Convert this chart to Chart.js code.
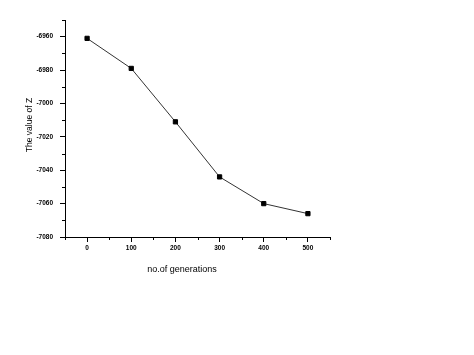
<!DOCTYPE html>
<html>
<head>
<meta charset="utf-8">
<script src="https://cdn.jsdelivr.net/npm/chart.js@4/dist/chart.umd.min.js"></script>
<style>
  html, body { margin: 0; padding: 0; background: #ffffff; }
  #wrap { width: 474px; height: 355px; }
</style>
</head>
<body>
<div id="wrap"><canvas id="c" width="474" height="355"></canvas></div>
<script>
// Data
const generations = [0, 100, 200, 300, 400, 500];
const zValues = [-6961, -6979, -7011, -7044, -7060, -7066];
const xTickLabels = [0, 100, 200, 300, 400, 500];
const yTickLabels = [-6960, -6980, -7000, -7020, -7040, -7060, -7080];
const xMinorTicks = [-50, 50, 150, 250, 350, 450, 550];
const yMinorTicks = [-6950, -6970, -6990, -7010, -7030, -7050, -7070];
const xTitle = 'no.of generations';
const yTitle = 'The value of Z';

const fam = "'Liberation Sans', Arial, sans-serif";

const extrasPlugin = {
  id: 'extras',
  afterDraw(chart) {
    const ctx = chart.ctx;
    const xs = chart.scales.x, ys = chart.scales.y;
    const ca = chart.chartArea;
    ctx.save();
    // minor ticks
    ctx.strokeStyle = '#000';
    ctx.lineWidth = 1;
    ctx.beginPath();
    xMinorTicks.forEach(v => {
      const px = Math.round(xs.getPixelForValue(v)) + 0.5;
      ctx.moveTo(px, xs.top);
      ctx.lineTo(px, xs.top + 3);
    });
    yMinorTicks.forEach(v => {
      const py = Math.round(ys.getPixelForValue(v)) + 0.5;
      ctx.moveTo(ys.right, py);
      ctx.lineTo(ys.right - 3, py);
    });
    ctx.stroke();
    // axis titles
    ctx.fillStyle = '#000';
    ctx.font = '9px ' + fam;
    ctx.textAlign = 'center';
    ctx.textBaseline = 'alphabetic';
    ctx.fillText(xTitle, ca.left + 117, ca.bottom + 35);
    ctx.translate(ca.left - 35, ca.top + 105);
    ctx.rotate(-Math.PI / 2);
    ctx.font = '8.5px ' + fam;
    ctx.textBaseline = 'middle';
    ctx.fillText(yTitle, 0, 0);
    ctx.restore();
  }
};

new Chart(document.getElementById('c'), {
  type: 'scatter',
  data: {
    datasets: [{
      data: generations.map((g, i) => ({ x: g, y: zValues[i] })),
      showLine: true,
      borderColor: '#333333',
      borderWidth: 1,
      pointStyle: 'rect',
      pointRadius: 3,
      pointHoverRadius: 3,
      pointBackgroundColor: '#000',
      pointBorderColor: '#000',
      pointBorderWidth: 1
    }]
  },
  options: {
    responsive: false,
    animation: false,
    layout: { padding: { left: 0, right: 144, top: 20, bottom: 78 } },
    plugins: { legend: { display: false }, tooltip: { enabled: false } },
    scales: {
      x: {
        type: 'linear',
        min: -50, max: 550,
        afterBuildTicks(scale) { scale.ticks = xTickLabels.map(v => ({ value: v })); },
        afterFit(scale) { scale.height = 40; },
        grid: { drawOnChartArea: false, tickLength: 5, color: '#000', tickColor: '#000' },
        border: { display: true, color: '#000', width: 1 },
        ticks: { color: '#000', padding: 2, maxRotation: 0, callback: v => String(v), font: { family: fam, size: 6.5, weight: 'bold' } },
        title: { display: false }
      },
      y: {
        min: -7080, max: -6950,
        afterBuildTicks(scale) { scale.ticks = yTickLabels.map(v => ({ value: v })); },
        afterFit(scale) { scale.width = 65; },
        grid: { drawOnChartArea: false, tickLength: 5, color: '#000', tickColor: '#000' },
        border: { display: true, color: '#000', width: 1 },
        ticks: { color: '#000', padding: 7, callback: v => String(v), font: { family: fam, size: 6.5, weight: 'bold' } },
        title: { display: false }
      }
    }
  },
  plugins: [extrasPlugin]
});
</script>
</body>
</html>
